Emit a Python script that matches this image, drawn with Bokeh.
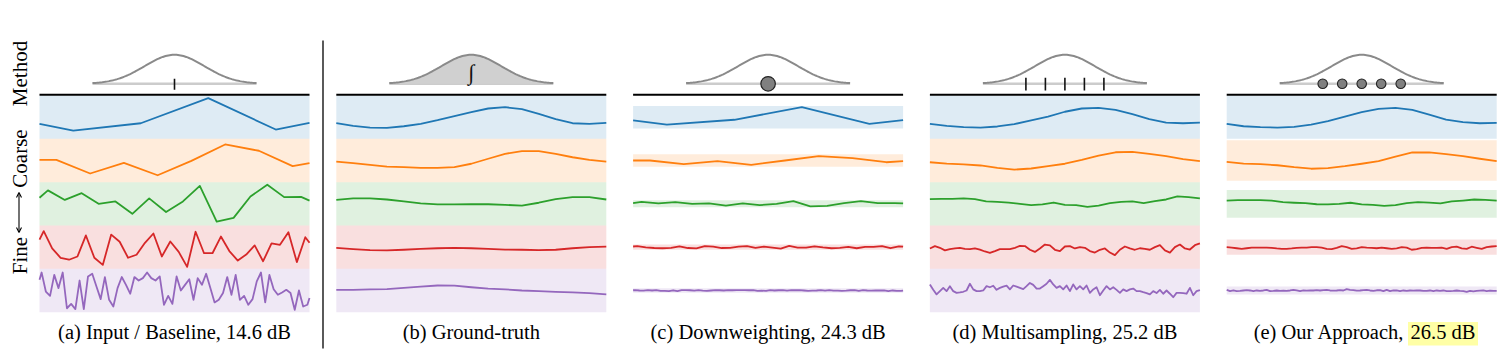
import numpy as np
from bokeh.plotting import figure
from bokeh.models import Range1d, Arrow, OpenHead
from bokeh.core.properties import value
from bokeh.embed import file_html
from bokeh.resources import INLINE

# ---------------- data ----------------
CAPTIONS = ["(a) Input / Baseline, 14.6 dB", "(b) Ground-truth",
            "(c) Downweighting, 24.3 dB", "(d) Multisampling, 25.2 dB",
            "(e) Our Approach,"]
CAPTION_HIGHLIGHT = "26.5 dB"
LABEL_METHOD = "Method"
LABEL_FINE = "Fine"
LABEL_COARSE = "Coarse"
METHODS = ["a", "b", "c", "d", "e"]

# band half-height (fraction of full band) per method, coarse -> fine
BAND_SCALE = {
    "a": [1.0, 1.0, 1.0, 1.0, 1.0],
    "b": [1.0, 1.0, 1.0, 1.0, 1.0],
    "c": [0.52, 0.29, 0.16, 0.12, 0.10],
    "d": [1.0, 1.0, 1.0, 1.0, 1.0],
    "e": [1.0, 0.94, 0.64, 0.35, 0.18],
}

# (a) input: values at [left edge, knots..., right edge]
a_blue = [-0.31, -0.62, -0.28, 0.88, -0.57, -0.26]
a_orange = [0.03, 0.03, -0.60, -0.11, -0.68, -0.02, 0.74, 0.45, -0.26, -0.12]
a_green = [0.28, 0.62, 0.18, 0.49, 0.00, 0.11, -0.46, 0.25, -0.38, 0.11, 0.83,
           -0.82, -0.65, 0.34, 0.88, 0.31, 0.32, 0.15]
a_red = [0.35, 0.74, -0.06, -0.49, -0.58, -0.43, 0.54, -0.49, -0.82, 0.58, 0.25,
         -0.49, -0.35, 0.20, 0.63, -0.43, 0.26, -0.22, -0.91, 0.71, -0.28,
         -0.28, 0.49, -0.18, -0.62, -0.34, 0.08, -0.65, 0.17, 0.11, 0.69,
         -0.69, 0.46, 0.20]
a_purple = [0.49, 0.83, -0.05, -0.25, 0.72, 0.11, 0.83, -0.82, -0.62, -0.86, 0.46,
            -0.86, 0.65, 0.77, 0.18, -0.40, 0.62, -0.43, -0.74, 0.11, 0.62,
            0.26, -0.15, 0.62, 0.46, 0.57, 0.83, 0.57, 0.46, 0.65, -0.66,
            -0.25, -0.62,
            0.65, 0.00, 0.26, 0.52, -0.43, 0.57, 0.26, 0.77, 0.11, -0.55,
            -0.43, -0.12, 0.62, -0.20, 0.72, -0.43, -0.25, -0.66, -0.40, 0.42,
            0.83, -0.55, 0.72, 0.06, -0.20, -0.09, 0.03, -0.12, -0.89, 0.00,
            -0.74, -0.66, -0.35]

# (b) ground truth: uniformly spaced samples
b_blue = [-0.28, -0.40, -0.48, -0.49, -0.42, -0.31, -0.14, 0.05, 0.23, 0.40,
          0.46, 0.37, 0.15, -0.09, -0.28, -0.31, -0.26]
b_orange = [-0.05, -0.12, -0.20, -0.28, -0.31, -0.34, -0.34, -0.31, -0.15, 0.08,
            0.31, 0.43, 0.43, 0.31, 0.15, 0.03, -0.05]
b_green = [0.18, 0.25, 0.25, 0.20, 0.11, 0.02, -0.03, -0.03, -0.02, -0.02,
           -0.05, -0.08, 0.05, 0.22, 0.31, 0.31, 0.20]
b_red = [-0.03, -0.09, -0.14, -0.15, -0.12, -0.08, -0.05, -0.03, -0.05, -0.08,
         -0.11, -0.12, -0.14, -0.12, -0.05, 0.00, 0.02]
b_purple = [0.03, 0.03, 0.05, 0.06, 0.12, 0.18, 0.23, 0.22, 0.15, 0.09, 0.05,
            0.00, -0.03, -0.06, -0.09, -0.12, -0.18]

# (c) downweighting: values at [left edge, knots..., right edge]
c_blue = [-0.15, -0.34, -0.12, 0.46, -0.31, -0.14]
c_orange = [0.00, 0.00, -0.17, -0.03, -0.20, 0.00, 0.20, 0.11, -0.08, -0.03]
c_green = [0.03, 0.09, 0.02, 0.08, 0.00, 0.02, -0.08, 0.02, -0.06, 0.00, 0.12,
           -0.12, -0.09, 0.03, 0.12, 0.03, 0.03, 0.02]
c_red = [0.03, 0.05, -0.01, -0.04, -0.05, -0.03, 0.04, -0.04, -0.06, 0.05, 0.02,
         -0.04, -0.03, 0.02, 0.05, -0.03, 0.02, -0.02, -0.07, 0.06, -0.02,
         -0.02, 0.04, -0.01, -0.05, -0.03, 0.01, -0.05, 0.01, 0.01, 0.05,
         -0.05, 0.04, 0.02]
c_purple = [0.01, 0.02, 0.00, -0.01, 0.02, 0.00, 0.02, -0.02, -0.02, -0.03, 0.01,
            -0.03, 0.02, 0.02, 0.01, -0.01, 0.02, -0.01, -0.02, 0.00, 0.02,
            0.01, 0.00, 0.02, 0.01, 0.02, 0.02, 0.02, 0.01, 0.02, -0.02,
            -0.01, -0.02, 0.02, 0.00, 0.01, 0.02, -0.01, 0.02, 0.01, 0.02,
            0.00, -0.02, -0.01, 0.00, 0.02, -0.01, 0.02, -0.01, -0.01, -0.02,
            -0.01, 0.01, 0.02, -0.02, 0.02, 0.00, -0.01, 0.00, 0.00, 0.00,
            -0.03, 0.00, -0.02, -0.02, -0.01]

# (d) multisampling: uniformly spaced samples
d_blue = [-0.31, -0.40, -0.46, -0.48, -0.43, -0.32, -0.15, 0.03, 0.25, 0.40,
          0.43, 0.34, 0.14, -0.09, -0.25, -0.28, -0.25]
d_orange = [-0.08, -0.14, -0.18, -0.23, -0.34, -0.42, -0.37, -0.26, -0.15, 0.03,
            0.23, 0.38, 0.40, 0.31, 0.20, 0.06, -0.03]
d_green = [0.22, 0.23, 0.23, 0.25, 0.22, 0.11, 0.09, 0.06, 0.00, -0.06, -0.03,
           0.06, -0.05, -0.06, -0.14, -0.08, 0.03, 0.09, 0.11, 0.03, 0.12, 0.20,
           0.34, 0.31, 0.25]
d_red = [-0.06, 0.05, -0.03, -0.15, -0.09, -0.06, -0.03, -0.08, -0.09, -0.06,
         -0.11, -0.20, -0.26, -0.18, -0.09, -0.09, -0.09, -0.03, 0.06, 0.05,
         -0.12, -0.22, -0.06, 0.12, 0.08, -0.12, -0.18, 0.03, 0.05, -0.06,
         0.00, -0.03, -0.18, -0.25, -0.12, -0.06, -0.25, -0.37, -0.12, 0.03,
         -0.06, -0.12, -0.05, -0.08, -0.12, 0.00, 0.09, -0.15, -0.25, 0.00,
         0.12, -0.06, -0.11, 0.09, 0.17]
d_purple = [0.28, 0.03, -0.18, -0.03, 0.12, -0.03, 0.20, -0.03, -0.11, -0.09,
            -0.06, 0.00, 0.31, 0.05, -0.03, -0.03, 0.00, 0.20, 0.15, 0.22,
            0.03, 0.12, 0.18, 0.22, 0.05, 0.23, 0.18, 0.12, 0.06, 0.20,
            0.35, 0.26, 0.09, 0.09, 0.20, 0.31, 0.49, 0.28, 0.12, 0.20,
            0.05, 0.23, -0.03, 0.28, 0.05, 0.20, 0.05, 0.23, -0.11, 0.05,
            0.15, -0.22, 0.00, 0.20, 0.05, 0.15, 0.03, -0.11, 0.05, -0.03,
            0.05, 0.09, -0.03, -0.03, -0.08, -0.12, -0.18, -0.03, -0.12, 0.03,
            -0.15, 0.00, -0.15, -0.31, -0.11, -0.11, -0.12, -0.15, 0.12, -0.22,
            -0.03, 0.02]

# (e) our approach: uniformly spaced samples
e_blue = [-0.31, -0.42, -0.46, -0.48, -0.45, -0.34, -0.18, 0.02, 0.23, 0.38,
          0.43, 0.34, 0.12, -0.11, -0.23, -0.28, -0.26]
e_orange = [-0.06, -0.14, -0.17, -0.22, -0.31, -0.38, -0.35, -0.26, -0.15, -0.03,
            0.18, 0.37, 0.37, 0.29, 0.20, 0.08, -0.03]
e_green = [0.15, 0.17, 0.17, 0.17, 0.15, 0.08, 0.05, 0.03, -0.02, -0.03, 0.00,
           0.05, -0.03, -0.05, -0.09, -0.06, 0.03, 0.08, 0.06, 0.02, 0.11, 0.15,
           0.20, 0.18, 0.15]
e_red = [0.00, -0.02, -0.05, -0.08, -0.05, -0.02, -0.02, -0.02, -0.02, -0.03,
         -0.06, -0.08, -0.08, -0.06, -0.03, -0.02, -0.02, 0.00, 0.00, -0.02,
         -0.08, -0.09, -0.03, 0.05, 0.00, -0.08, -0.06, 0.00, -0.02, -0.03,
         -0.05, -0.02, -0.05, -0.08, -0.06, 0.00, -0.02, -0.12, -0.09, -0.03,
         -0.02, -0.03, -0.03, -0.02, -0.08, 0.00, 0.02, -0.06, -0.08, 0.02,
         -0.03, -0.08, 0.00, 0.03, 0.05]
e_purple = [0.03, -0.03, 0.00, -0.03, -0.02, 0.00, 0.02, 0.00, -0.03, 0.00,
            -0.02, 0.00, 0.03, -0.03, -0.02, 0.00, -0.02, -0.01, -0.02, 0.00,
            0.03, 0.00, -0.03, 0.00, -0.01, 0.00, 0.00, 0.02, 0.00, 0.02,
            0.03, 0.00, -0.01, 0.00, 0.02, 0.00, 0.06, 0.03, 0.02, -0.01,
            0.00, 0.02, 0.03, 0.00, -0.02, 0.01, 0.02, -0.03, 0.03, -0.03,
            0.00, 0.00, -0.03, 0.00, -0.02, 0.00, -0.01, 0.00, 0.00, -0.02,
            -0.02, 0.00, -0.03, 0.00, -0.02, 0.00, -0.03, -0.03, -0.02, 0.00,
            -0.02, -0.03, -0.06, -0.02, -0.04, -0.02, -0.01, 0.00, -0.03, -0.01,
            -0.02, -0.02]

SERIES = {
    "a": [a_blue, a_orange, a_green, a_red, a_purple],
    "b": [b_blue, b_orange, b_green, b_red, b_purple],
    "c": [c_blue, c_orange, c_green, c_red, c_purple],
    "d": [d_blue, d_orange, d_green, d_red, d_purple],
    "e": [e_blue, e_orange, e_green, e_red, e_purple],
}
KNOTTED = {"a", "c"}  # sampled on a coarse knot grid

# sample positions in the method sketch, in units of sigma
SAMPLE_OFFSETS = [-1.3, -0.65, 0.0, 0.65, 1.3]

# ---------------- styles / layout ----------------
COLORS = ["#1f77b4", "#ff7f0e", "#2ca02c", "#d62728", "#9467bd"]
SERIF = value("Liberation Serif")
FS = "20.5px"
PANEL_W = 270.0
PANEL_STEP = 296.8
PANEL_X0 = 39.0
BAND_TOP = 95.0
BAND_H = 43.33
HALF = BAND_H / 2
G_BASE = 83.3
G_HEIGHT = 29.0
G_SIGMA = 30.0
G_SPAN = 82.0

W_FIG, H_FIG = 1505, 352
p = figure(width=W_FIG, height=H_FIG, output_backend="svg", toolbar_location=None,
           x_range=Range1d(0, W_FIG), y_range=Range1d(H_FIG, 0),
           min_border=0, outline_line_color=None)
p.axis.visible = False
p.xgrid.visible = False
p.ygrid.visible = False
p.background_fill_color = "white"
p.border_fill_color = "white"

for j, key in enumerate(METHODS):
    L = PANEL_X0 + PANEL_STEP * j
    cx = L + PANEL_W / 2
    # bands and lines
    for k in range(5):
        cy = BAND_TOP + BAND_H * (k + 0.5)
        s = BAND_SCALE[key][k]
        p.quad(left=L, right=L + PANEL_W, top=cy - HALF * s, bottom=cy + HALF * s,
               fill_color=COLORS[k], fill_alpha=0.15, line_color=None)
    for k in range(5):
        cy = BAND_TOP + BAND_H * (k + 0.5)
        vals = np.array(SERIES[key][k], dtype=float)
        if key in KNOTTED:
            n = len(vals) - 2
            xs = np.concatenate([[0.0], (np.arange(n) + 0.5) / n, [1.0]])
        else:
            xs = np.linspace(0, 1, len(vals))
        p.line(L + PANEL_W * xs, cy - HALF * vals, line_color=COLORS[k],
               line_width=1.8, line_join="round")
    # top rule
    p.segment(x0=[L], y0=[94.3], x1=[L + PANEL_W], y1=[94.3],
              line_color="black", line_width=2)
    # method sketch
    gx = np.linspace(-G_SPAN, G_SPAN, 120)
    gy = G_BASE - G_HEIGHT * np.exp(-gx ** 2 / (2 * G_SIGMA ** 2))
    p.segment(x0=[cx - G_SPAN], y0=[G_BASE], x1=[cx + G_SPAN], y1=[G_BASE],
              line_color="#cccccc", line_width=2.6)
    if key == "b":
        p.varea(x=cx + gx, y1=gy, y2=np.full_like(gy, G_BASE), fill_color="#d0d0d0")
    p.line(cx + gx, gy, line_color="#8a8a8a", line_width=2)
    offs = np.array(SAMPLE_OFFSETS) * G_SIGMA
    if key == "a":
        p.segment(x0=[cx], y0=[78.3], x1=[cx], y1=[89.3], line_color="#111111", line_width=1.6)
    elif key == "b":
        p.text(x=[cx], y=[71.5], text=["\u222b"], text_font=SERIF, text_font_size="22px",
               text_font_style="italic", text_align="center", text_baseline="middle",
               text_color="#111111")
    elif key == "c":
        p.scatter(x=[cx], y=[G_BASE], size=14.5, fill_color="#808080",
                  line_color="#222222", line_width=1.2)
    elif key == "d":
        p.segment(x0=cx + offs, y0=np.full(5, 77.3), x1=cx + offs, y1=np.full(5, 90.0),
                  line_color="#111111", line_width=1.6)
    elif key == "e":
        p.scatter(x=cx + offs, y=np.full(5, G_BASE), size=9.5, fill_color="#808080",
                  line_color="#222222", line_width=1.1)
    # caption
    if key != "e":
        p.text(x=[cx], y=[331], text=[CAPTIONS[j]], text_font=SERIF,
               text_font_size=FS, text_align="center", text_baseline="middle",
               text_color="black")
    else:
        p.quad(left=1407.5, right=1477.5, top=321.5, bottom=345, fill_color="#ffffa6",
               line_color=None)
        p.text(x=[1404], y=[331], text=[CAPTIONS[j]], text_font=SERIF,
               text_font_size=FS, text_align="right", text_baseline="middle",
               text_color="black")
        p.text(x=[1410], y=[331], text=[CAPTION_HIGHLIGHT], text_font=SERIF,
               text_font_size=FS, text_align="left", text_baseline="middle",
               text_color="black")

# separator after the input panel
p.segment(x0=[322.5], y0=[40], x1=[322.5], y1=[348], line_color="black", line_width=1.3)

# row labels
p.text(x=[19], y=[73], text=[LABEL_METHOD], text_font=SERIF, text_font_size="21px",
       angle=np.pi / 2, text_align="center", text_baseline="middle", text_color="black")
p.text(x=[19], y=[158], text=[LABEL_COARSE], text_font=SERIF, text_font_size="21px",
       angle=np.pi / 2, text_align="center", text_baseline="middle", text_color="black")
p.text(x=[19], y=[255], text=[LABEL_FINE], text_font=SERIF, text_font_size="21px",
       angle=np.pi / 2, text_align="center", text_baseline="middle", text_color="black")
p.add_layout(Arrow(x_start=18.5, y_start=232, x_end=18.5, y_end=192,
                   line_color="black", line_width=1.1,
                   start=OpenHead(size=5, line_width=1.1, line_color="black"),
                   end=OpenHead(size=5, line_width=1.1, line_color="black")))

open("out.html", "w").write(file_html(p, INLINE))
